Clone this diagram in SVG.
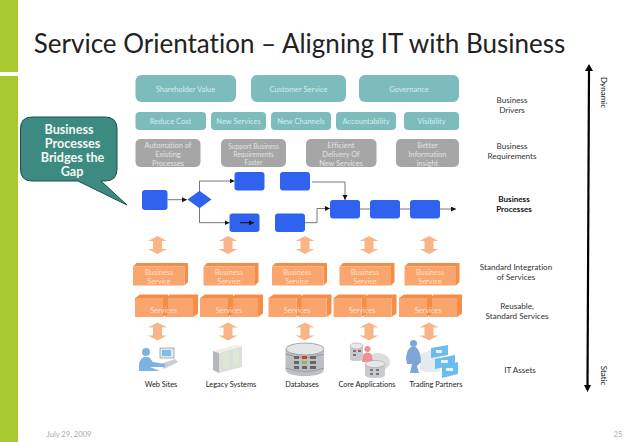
<svg xmlns="http://www.w3.org/2000/svg" width="638" height="442" viewBox="0 0 638 442">
<style>
text{font-family:"Lato","Open Sans","Liberation Sans",sans-serif;text-anchor:middle;font-variant-ligatures:none}
.teal{fill:#7cbcbc}.tt{fill:#d5ecea;font-size:7.500px}
.gray{fill:#a6a6a6}.gt{fill:#e2e2e2;font-size:7.400px}
.gs{fill:#e2e2e2;font-size:6.700px}
.blue{fill:#2f62ee}
.lbl{fill:#333;font-size:8.100px}
.cap{fill:#222;font-size:7.400px}
.f{fill:#fba56e}.s{fill:#f48d45}.st{fill:#fde0cc;font-size:7.400px}
.bw{fill:#f9b58a}
.con{fill:none;stroke:#777;stroke-width:1}
.call{fill:#f4f8f4;font-size:12.600px;font-weight:700}
.ax{fill:#111;font-size:8px}
.foot{fill:#aaa;font-size:7.600px}
</style>
<defs>
<marker id="ah" markerWidth="6" markerHeight="6" refX="5" refY="2.5" orient="auto" markerUnits="userSpaceOnUse"><path d="M0,0L5,2.5L0,5z" fill="#111"/></marker>
<path id="dbl" class="bw" d="M0,0L9.500,5H4.500V13H9.500L0,18L-9.500,13H-4.500V5H-9.500z"/>
<g id="sv"><path class="s" d="M0,3.500L3.500,0H55V19L51.500,22.500V3.500z"/><rect class="f" y="3.500" width="51.500" height="19"/></g>
<g id="blk"><path class="s" d="M0,3.500L5,0H33V19L28,22.500V3.500z"/><rect class="f" y="3.500" width="28" height="19"/></g>
</defs>
<rect width="638" height="442" fill="#fff"/>
<g id="sidebar" fill="#a8c92f"><rect width="18" height="72"/><rect y="76" width="18" height="366"/></g>
<text id="title" x="299.500" y="53" style="font-size:26px;fill:#222">Service Orientation – Aligning IT with Business</text>

<g id="drivers">
<g id="d1"><rect class="teal" x="135.500" y="75" width="100.500" height="27" rx="6"/><text class="tt" x="185.500" y="92">Shareholder Value</text></g>
<g id="d2"><rect class="teal" x="251" y="75" width="95" height="27" rx="6"/><text class="tt" x="298.500" y="92">Customer Service</text></g>
<g id="d3"><rect class="teal" x="359" y="75" width="100" height="27" rx="6"/><text class="tt" x="409" y="92">Governance</text></g>
</g>
<g id="reqs">
<g id="r1"><rect class="teal" x="135.500" y="112" width="70.500" height="18" rx="4"/><text class="tt" x="170.500" y="124">Reduce Cost</text></g>
<g id="r2"><rect class="teal" x="211" y="112" width="55" height="18" rx="4"/><text class="tt" x="238.500" y="124">New Services</text></g>
<g id="r3"><rect class="teal" x="271" y="112" width="60" height="18" rx="4"/><text class="tt" x="301" y="124">New Channels</text></g>
<g id="r4"><rect class="teal" x="336" y="112" width="60" height="18" rx="4"/><text class="tt" x="366" y="124">Accountability</text></g>
<g id="r5"><rect class="teal" x="404" y="112" width="55" height="18" rx="4"/><text class="tt" x="431.500" y="124">Visibility</text></g>
</g>
<g id="grays">
<g id="g1"><rect class="gray" x="135.500" y="139" width="65" height="28" rx="5"/><text class="gt" x="168" y="147.500">Automation of</text><text class="gt" x="168" y="156.500">Existing</text><text class="gt" x="168" y="165.500">Processes</text></g>
<g id="g2"><rect class="gray" x="221" y="139" width="65" height="28" rx="5"/><text class="gs" x="253.500" y="148.500">Support Business</text><text class="gs" x="253.500" y="156.500">Requirements</text><text class="gs" x="253.500" y="164.500">Faster</text></g>
<g id="g3"><rect class="gray" x="306" y="139" width="70.500" height="28" rx="5"/><text class="gt" x="341" y="147.500">Efficient</text><text class="gt" x="341" y="156.500">Delivery Of</text><text class="gt" x="341" y="165.500">New Services</text></g>
<g id="g4"><rect class="gray" x="396" y="139" width="63" height="28" rx="5"/><text class="gt" x="427.500" y="147.500">Better</text><text class="gt" x="427.500" y="156.500">Information</text><text class="gt" x="427.500" y="165.500">insight</text></g>
</g>

<g id="connectors">
<path class="con" marker-end="url(#ah)" d="M167.500,199.700H187"/>
<path class="con" marker-end="url(#ah)" d="M199.500,191V181H234.500"/>
<path class="con" marker-end="url(#ah)" d="M199.500,208V222.700H229.500"/>
<path class="con" marker-end="url(#ah)" d="M312,182H345V200"/>
<path class="con" marker-end="url(#ah)" d="M305,222.700H317V208.500H330"/>
<path class="con" d="M360,209H370M400,209H410"/>
<path class="con" marker-end="url(#ah)" d="M440,209H456"/>
</g>
<g id="process">
<rect id="p1" class="blue" x="142" y="190" width="25.500" height="20" rx="3"/>
<path id="p2" class="blue" d="M199.500,190.700L211.500,199.500L199.500,208.300L187.500,199.500z"/>
<rect id="p3" class="blue" x="234.500" y="172" width="30" height="18.500" rx="3"/>
<rect id="p4" class="blue" x="280" y="172" width="30" height="18.500" rx="3"/>
<rect id="p5" class="blue" x="229.500" y="213.500" width="30" height="18.500" rx="3"/>
<rect id="p6" class="blue" x="275" y="213.500" width="30" height="18.500" rx="3"/>
<rect id="p7" class="blue" x="330" y="200" width="30" height="18.500" rx="3"/>
<rect id="p8" class="blue" x="370" y="200" width="30" height="18.500" rx="3"/>
<rect id="p9" class="blue" x="410" y="200" width="30" height="18.500" rx="3"/>
</g>
<g id="connector-over-box"><path class="con" style="stroke:#111" marker-end="url(#ah)" d="M240,222.700H254"/></g>

<g id="callout">
<path d="M32,117H105Q117,117 117,129V169Q117,181 105,181H101L127,205L78,181H32Q20.500,181 20.500,169V129Q20.500,117 32,117z" fill="#3d8a80" stroke="#1f4f4a" stroke-width="1"/>
<text class="call" x="69" y="134">Business</text>
<text class="call" x="72.500" y="148">Processes</text>
<text class="call" x="72.500" y="162">Bridges the</text>
<text class="call" x="72" y="176">Gap</text>
</g>

<g id="arrows-top"><use href="#dbl" x="157.500" y="236"/><use href="#dbl" x="228" y="236"/><use href="#dbl" x="305" y="236"/><use href="#dbl" x="369" y="236"/><use href="#dbl" x="429" y="236"/></g>
<g id="arrows-bottom"><use href="#dbl" x="157.500" y="322.500"/><use href="#dbl" x="228" y="322.500"/><use href="#dbl" x="305" y="322.500"/><use href="#dbl" x="369" y="322.500"/><use href="#dbl" x="429" y="322.500"/></g>

<g id="business-services">
<g id="bs1"><use href="#sv" x="133" y="263"/><text class="st" x="159" y="275">Business</text><text class="st" x="159" y="284">Service</text></g>
<g id="bs2"><use href="#sv" x="203.500" y="263"/><text class="st" x="229" y="275">Business</text><text class="st" x="229" y="284">Service</text></g>
<g id="bs3"><use href="#sv" x="272" y="263"/><text class="st" x="297" y="275">Business</text><text class="st" x="297" y="284">Service</text></g>
<g id="bs4"><use href="#sv" x="339.500" y="263"/><text class="st" x="365" y="275">Business</text><text class="st" x="365" y="284">Service</text></g>
<g id="bs5"><use href="#sv" x="404.500" y="263"/><text class="st" x="430" y="275">Business</text><text class="st" x="430" y="284">Service</text></g>
</g>
<g id="services">
<g id="s1"><use href="#blk" x="165" y="294.500"/><use href="#blk" x="135" y="294.500"/><text class="st" x="163.500" y="313">Services</text></g>
<g id="s2"><use href="#blk" x="230" y="294.500"/><use href="#blk" x="200" y="294.500"/><text class="st" x="229" y="313">Services</text></g>
<g id="s3"><use href="#blk" x="298.500" y="294.500"/><use href="#blk" x="268.500" y="294.500"/><text class="st" x="297" y="313">Services</text></g>
<g id="s4"><use href="#blk" x="363.500" y="294.500"/><use href="#blk" x="333.500" y="294.500"/><text class="st" x="362" y="313">Services</text></g>
<g id="s5"><use href="#blk" x="429" y="294.500"/><use href="#blk" x="399" y="294.500"/><text class="st" x="428" y="313">Services</text></g>
</g>

<g id="icon-web">
<rect x="160" y="348" width="14" height="10" fill="#e3eaee" stroke="#8a9298" stroke-width=".7"/><rect x="162" y="350" width="9" height="6" fill="#7fbde4"/>
<path d="M160,364L175,359L178,362L164,369z" fill="#c9cfd3"/>
<circle cx="146" cy="352" r="4" fill="#7fb2e4"/>
<path d="M139,371Q138,359 144,357H149L153,362L165,364V367L150,367L160,371z" fill="#7fb2e4"/>
</g>
<g id="icon-legacy">
<path d="M219,353L242,346V367L219,373z" fill="#dcdfdc"/>
<rect x="223" y="353" width="6" height="15" fill="#dbe8d4"/><rect x="233" y="350" width="6" height="15" fill="#dbe8d4"/>
<path d="M213,351L236,345L242,346L219,353z" fill="#eceeec"/>
<path d="M213,351V370L219,373V353z" fill="#b4b8b8"/>
</g>
<g id="icon-db">
<path d="M285.500,349V369Q285.500,376 305,376Q324,376 324,369V349z" fill="#bcc0c4"/>
<ellipse cx="305" cy="349" rx="19" ry="6" fill="#e3e5e7" stroke="#888" stroke-width=".7"/>
<path d="M285.500,354Q305,361 324,354M285.500,368Q305,375 324,368" fill="none" stroke="#888" stroke-width=".7"/>
<g fill="#666"><rect x="294" y="356" width="5" height="3"/><rect x="310" y="356" width="6" height="3"/><rect x="294" y="361" width="5" height="3"/><rect x="302" y="366" width="5" height="3"/><rect x="310" y="361" width="6" height="3"/><rect x="294" y="366" width="5" height="3"/><rect x="310" y="366" width="6" height="3"/></g>
<rect x="302" y="356" width="5" height="3" fill="#d23a3a"/><rect x="302" y="361" width="5" height="3" fill="#9ab84a"/>
</g>
<g id="icon-core">
<ellipse cx="378" cy="362" rx="12" ry="9" fill="#dcdcdc"/>
<path d="M350,346V359Q350,361 356.500,361Q363,361 363,359V346z" fill="#c8cbcd"/><ellipse cx="356.500" cy="346" rx="6.500" ry="3" fill="#e8e8e8" stroke="#999" stroke-width=".5"/>
<g fill="#777"><rect x="353" y="350" width="3" height="2"/><rect x="353" y="354" width="3" height="2"/></g><rect x="358" y="350" width="3" height="2" fill="#d24a4a"/>
<circle cx="367.500" cy="349" r="3" fill="#ee8f96"/>
<path d="M362,362L363.500,354Q367.500,351 371.500,354L373,362z" fill="#ee8f96"/>
<path d="M365,364V375Q365,378 375,378Q385,378 385,375V364z" fill="#c8cbcd"/><ellipse cx="375" cy="364" rx="10" ry="3.500" fill="#e8e8e8" stroke="#999" stroke-width=".5"/>
<g fill="#777"><rect x="370" y="369" width="3" height="2"/><rect x="376" y="369" width="3" height="2"/><rect x="370" y="373" width="3" height="2"/><rect x="376" y="373" width="3" height="2"/></g>
</g>
<g id="icon-partners">
<path d="M420,354L431,350H440V372H425L420,370z" fill="#e6eaee"/>
<circle cx="413.500" cy="343.500" r="3.500" fill="#7fa5d6"/>
<path d="M406,358Q407,349 411,347H416Q421,352 421,362L417,366L419,373H410L412,364H407z" fill="#7fa5d6"/>
<g fill="#6dbcee"><path d="M431,348L448,345V355L431,358z"/><path d="M435,359L455,355V365L435,369z"/><path d="M442,366L458,362V374L442,378z"/></g>
<g fill="#e6f3fb"><rect x="436" y="350" width="6" height="3"/><rect x="441" y="360" width="7" height="3"/><rect x="446" y="368" width="7" height="3"/></g>
</g>

<g id="captions">
<text class="cap" x="161" y="386.500">Web Sites</text>
<text class="cap" x="231" y="386.500">Legacy Systems</text>
<text class="cap" x="302" y="386.500">Databases</text>
<text class="cap" x="367" y="386.500">Core Applications</text>
<text class="cap" x="436" y="386.500">Trading Partners</text>
</g>
<g id="labels">
<text class="lbl" x="512" y="103">Business</text><text class="lbl" x="512" y="113">Drivers</text>
<text class="lbl" x="512" y="149">Business</text><text class="lbl" x="512" y="159">Requirements</text>
<text class="lbl" x="514" y="202" style="font-weight:700;fill:#111">Business</text><text class="lbl" x="514" y="212" style="font-weight:700;fill:#111">Processes</text>
<text class="lbl" x="516" y="270">Standard Integration</text><text class="lbl" x="516" y="280">of Services</text>
<text class="lbl" x="517" y="309">Reusable,</text><text class="lbl" x="517" y="319">Standard Services</text>
<text class="lbl" x="520" y="373">IT Assets</text>
</g>
<g id="axis">
<path d="M589,68L587.500,388" stroke="#000" stroke-width="2.200" fill="none"/>
<path d="M589,64L593,71H585zM587.500,392L584,385H591z" fill="#000"/>
<text class="ax" transform="translate(600.500,92.500) rotate(90)">Dynamic</text>
<text class="ax" transform="translate(600.500,375.500) rotate(90)">Static</text>
</g>
<g id="footer">
<text class="foot" x="69" y="437">July 29, 2009</text>
<text class="foot" x="618" y="437">25</text>
</g>
</svg>
